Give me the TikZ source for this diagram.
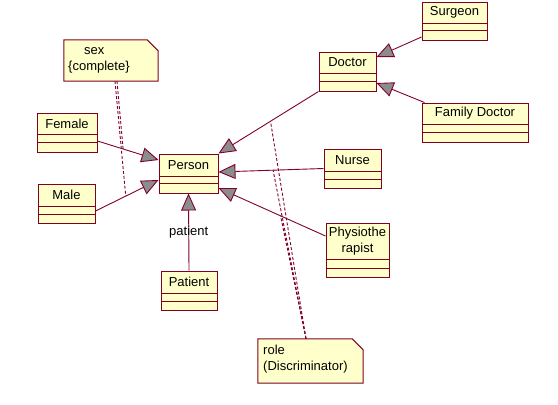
\documentclass[tikz,border=0pt]{standalone}
\usepackage{fontspec}
\setmainfont{Liberation Sans}
\usetikzlibrary{arrows.meta}
\definecolor{umlline}{RGB}{128,0,48}
\definecolor{umlborder}{RGB}{128,0,32}
\definecolor{umlfill}{RGB}{255,255,204}
\definecolor{tipgray}{RGB}{140,140,140}
\tikzset{
  clsbox/.style={draw=umlborder, fill=umlfill, line width=1pt, inner sep=0pt},
  clsline/.style={draw=umlborder, line width=1pt},
  clstext/.style={inner sep=0pt, font=\fontsize{13}{16}\selectfont, align=center},
  notetext/.style={inner sep=0pt, font=\fontsize{13}{16}\selectfont, anchor=west},
  gen/.style={draw=umlline, line width=0.9pt, -{Triangle[length=17pt,width=15pt,fill=tipgray]}},
  dashline/.style={draw=umlline, line width=0.9pt, dash pattern=on 3pt off 2pt},
  notebox/.style={inner sep=0pt},
  notedraw/.style={draw=umlborder, fill=umlfill, line width=1pt},
}
\newcommand\umlclass[8]{%
  \pgfmathsetmacro\cw{#4-#2}\pgfmathsetmacro\ch{#5-#3}%
  \node[clsbox, minimum width=\cw pt, minimum height=\ch pt] (#1) at ({(#2+#4)/2},{(#3+#5)/2}) {};
  \draw[clsline] (#2,#6) -- (#4,#6) (#2,#7) -- (#4,#7);
  \node[clstext] (#1-name) at ({(#2+#4)/2},{(#3+#6)/2}) {#8};
}
\newcommand\umlnote[5]{%
  \pgfmathsetmacro\cw{#4-#2}\pgfmathsetmacro\ch{#5-#3}%
  \node[notebox, minimum width=\cw pt, minimum height=\ch pt] (#1) at ({(#2+#4)/2},{(#3+#5)/2}) {};
  \draw[notedraw] (#1.north west) -- ([xshift=-11pt]#1.north east) -- ([yshift=-11pt]#1.north east) -- (#1.south east) -- (#1.south west) -- cycle;
}
\begin{document}
\begin{tikzpicture}[x=1pt,y=-1pt]
\useasboundingbox (0,0) rectangle (558,405);
\fill[white] (0,0) rectangle (558,405);

\umlclass{person}{159}{154}{218}{193}{176}{183}{Person}
\umlclass{female}{37}{113}{97}{152}{134}{142}{Female}
\umlclass{male}{38}{184}{95}{223}{206}{214}{Male}
\umlclass{surgeon}{422}{2}{487}{40}{23}{30}{Surgeon}
\umlclass{doctor}{319}{52}{376}{91}{73}{81}{Doctor}
\umlclass{family}{422}{103}{528}{142}{124}{132}{Family Doctor}
\umlclass{nurse}{324}{149}{381}{188}{171}{179}{Nurse}
\umlclass{physio}{326}{223}{389}{277}{259}{268}{Physiothe\\rapist}
\umlclass{patient}{161}{271}{217}{310}{293}{301}{Patient}

\umlnote{sexnote}{64}{40}{158}{81}
\node[notetext] (sexlabel) at (84,51) {sex};
\node[notetext] (sexcomplete) at (68,67) {\{complete\}};

\umlnote{rolenote}{258}{339}{363}{383}
\node[notetext] (rolelabel) at (263,350) {role};
\node[notetext] (roledisc) at (263,367) {(Discriminator)};

% generalizations
\draw[gen] ([yshift=-8.5pt]female.east) -- coordinate[pos=0.42] (fc) ([yshift=13.5pt]person.west);
\draw[gen] ([yshift=-7.5pt]male.east) -- coordinate[pos=0.48] (mc) ([yshift=-6.5pt]person.west);
\draw[gen] ([yshift=-16pt]surgeon.west) -- ([yshift=14.5pt]doctor.east);
\draw[gen] ([xshift=3pt]family.north west) -- ([yshift=-11.5pt]doctor.east);
\draw[gen] (doctor.south west) -- coordinate[pos=0.48] (dc) (person.north east);
\draw[gen] (nurse.west) -- coordinate[pos=0.48] (nc) ([yshift=1.5pt]person.east);
\draw[gen] ([yshift=14pt]physio.west) -- coordinate[pos=0.42] (pc) ([yshift=-14.5pt]person.east);
\draw[gen] (patient.north) -- node[clstext] (patientlabel) {patient} (person.south);

% discriminator links
\draw[dashline] ([xshift=6pt]sexnote.south) -- (fc);
\draw[dashline] ([xshift=4pt]sexnote.south) -- (mc);
\draw[dashline] ([xshift=-4.5pt]rolenote.north) -- (dc);
\draw[dashline] ([xshift=-4.5pt]rolenote.north) -- (nc);
\draw[dashline] ([xshift=-4.5pt]rolenote.north) -- (pc);
\end{tikzpicture}
\end{document}
